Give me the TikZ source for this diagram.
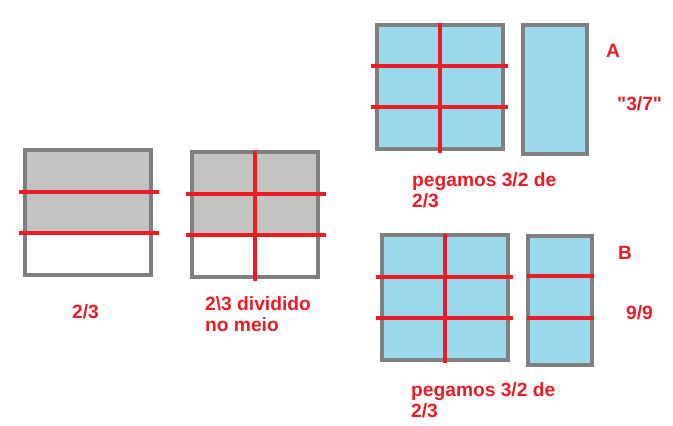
\documentclass[tikz,border=0pt]{standalone}
\usepackage{fontspec}
\setmainfont{Liberation Sans}[Ligatures=TeXOff]
\definecolor{pred}{HTML}{ED1C24}
\definecolor{pgray}{HTML}{7F7F7F}
\definecolor{plgray}{HTML}{C3C3C3}
\definecolor{pblue}{HTML}{99D9EA}
\begin{document}
\begin{tikzpicture}[x=1pt,y=-1pt,
  frame/.style={draw=pgray,line width=3.2pt},
  redline/.style={draw=pred,line width=3.2pt},
  lbl/.style={anchor=base west,inner sep=0pt,text=pred,font=\fontsize{19.2pt}{21pt}\selectfont\bfseries,align=left}]
\useasboundingbox[fill=white] (0,0) rectangle (673,426);
% box 1
\fill[plgray] (25,150) rectangle (151,233);
\draw[frame] (25,150) rectangle (151,275);
\draw[redline] (19,192) -- (159,192);
\draw[redline] (19,233) -- (159,233);
% box 2
\fill[plgray] (192,152) rectangle (318,235);
\draw[frame] (192,152) rectangle (318,277);
\draw[redline] (186,194) -- (326,194);
\draw[redline] (186,235) -- (326,235);
\draw[redline] (255,151) -- (255,281);
% box 3
\draw[frame,fill=pblue] (377,25) rectangle (503,149);
\draw[redline] (371,66) -- (508,66);
\draw[redline] (371,107) -- (508,107);
\draw[redline] (440,23) -- (440,153);
% box 4
\draw[frame,fill=pblue] (523,25) rectangle (587,154);
% box 5
\draw[frame,fill=pblue] (382,235) rectangle (508,360);
\draw[redline] (376,277) -- (513,277);
\draw[redline] (376,318) -- (513,318);
\draw[redline] (445,234) -- (445,363);
% box 6
\draw[frame,fill=pblue] (528,236) rectangle (592,365);
\draw[redline] (527,276) -- (594,276);
\draw[redline] (527,318) -- (594,318);
% labels
\node[lbl] (t1) at (72,318) {2/3};
\node[lbl] (t2) at (205,331) {2\textbackslash3 dividido\\no meio};
\node[lbl] (tA) at (606,57) {A};
\node[lbl] (t37) at (617,110) {"3/7"};
\node[lbl] (tp1) at (412,207) {pegamos 3/2 de\\2/3};
\node[lbl] (tB) at (618,259) {B};
\node[lbl] (t99) at (626,319) {9/9};
\node[lbl] (tp2) at (411,417) {pegamos 3/2 de\\2/3};
\end{tikzpicture}
\end{document}
